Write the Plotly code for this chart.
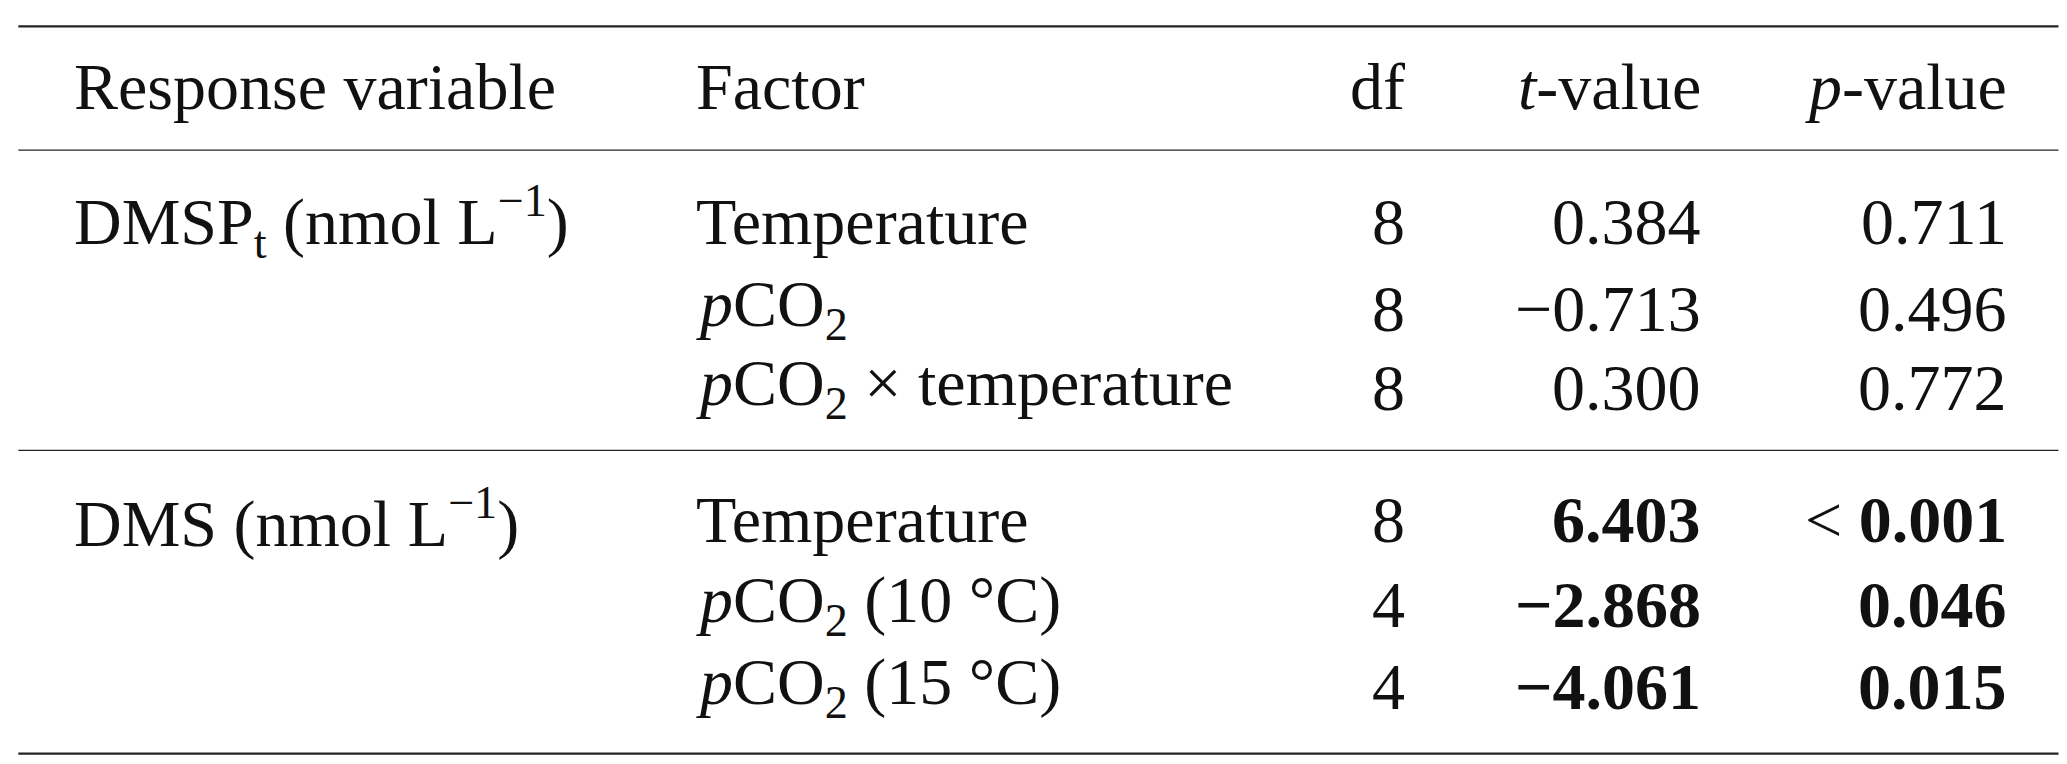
import plotly.graph_objects as go

# table contents
responses = ["DMSP<sub>t</sub> (nmol L<sup>−1</sup>)", "", "",
             "DMS (nmol L<sup>−1</sup>)", "", ""]
factors = ["Temperature", "<i>p</i>CO<sub>2</sub>", "<i>p</i>CO<sub>2</sub> × temperature",
           "Temperature", "<i>p</i>CO<sub>2</sub> (10 °C)", "<i>p</i>CO<sub>2</sub> (15 °C)"]
dfs = [8, 8, 8, 8, 4, 4]
t_values = ["0.384", "−0.713", "0.300", "6.403", "−2.868", "−4.061"]
p_values = ["0.711", "0.496", "0.772", "< <b>0.001</b>", "0.046", "0.015"]
significant = [False, False, False, True, True, True]
headers = ["Response variable", "Factor", "df", "<i>t</i>-value", "<i>p</i>-value"]

# layout (fractions of the page, y measured from top)
col_x = [0.031, 0.332, 0.677, 0.820, 0.968]
col_anchor = ["left", "left", "right", "right", "right"]
header_y = 0.103
row_y = [0.279, 0.393, 0.497, 0.669, 0.781, 0.888]
rules = [(0.024, 2.2), (0.186, 1.4), (0.579, 1.4), (0.976, 2.2)]

font = dict(family="Liberation Serif", size=66, color="#111")

fig = go.Figure()
ann = []
for x, a, h in zip(col_x, col_anchor, headers):
    ann.append(dict(x=x, y=header_y, text=h, xanchor=a))

for i in range(len(factors)):
    t = t_values[i]
    p = p_values[i]
    if significant[i]:
        t = "<b>" + t + "</b>"
        if "<b>" not in p:
            p = "<b>" + p + "</b>"
    cells = [responses[i], factors[i], str(dfs[i]), t, p]
    for x, a, c in zip(col_x, col_anchor, cells):
        if c:
            ann.append(dict(x=x, y=row_y[i], text=c, xanchor=a))

for a in ann:
    a.update(xref="x", yref="y", yanchor="middle", showarrow=False, font=font)

shapes = [dict(type="line", xref="x", yref="y", x0=0.005, x1=0.992, y0=y, y1=y,
               line=dict(color="#222", width=w)) for y, w in rules]

fig.update_layout(
    annotations=ann, shapes=shapes,
    width=2067, height=764,
    margin=dict(l=0, r=0, t=0, b=0),
    paper_bgcolor="white", plot_bgcolor="white",
    xaxis=dict(range=[0, 1], visible=False, fixedrange=True),
    yaxis=dict(range=[1, 0], visible=False, fixedrange=True),
    showlegend=False,
)

fig.write_html("out.html")
